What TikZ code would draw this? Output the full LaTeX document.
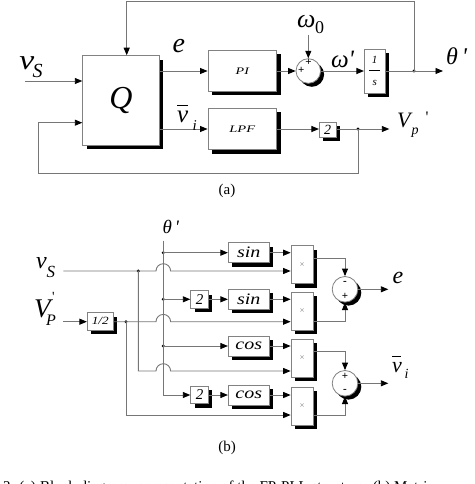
\documentclass[tikz,border=0pt]{standalone}
\usepackage{fontspec}
\setmainfont{Liberation Serif}
\usetikzlibrary{arrows.meta,shadows}
\definecolor{lncol}{RGB}{118,118,118}
\definecolor{bxcol}{RGB}{130,130,130}
\newcommand{\fs}[1]{\fontsize{#1}{#1}\selectfont}
\newcommand{\ovv}[1]{\rlap{\raisebox{0.66em}{\rule{0.42em}{0.045em}}}#1}
\begin{document}
\begin{tikzpicture}[x=1pt,y=-1pt,
  ln/.style={draw=lncol,line width=0.9pt},
  arr/.style={-{Triangle[length=7.5pt,width=6pt,black]}},
  blk/.style={draw=bxcol,fill=white,line width=0.8pt,inner sep=0pt,
    drop shadow={shadow xshift=4pt,shadow yshift=-4pt,fill=black,opacity=1}},
  sumc/.style={circle,draw=bxcol,fill=white,line width=0.8pt,inner sep=0pt,minimum size=24.6pt,
    drop shadow={shadow xshift=3.5pt,shadow yshift=-3.5pt,fill=black,opacity=1}},
  dot/.style={circle,fill=black,inner sep=0pt,minimum size=3.4pt},
  lab/.style={inner sep=0pt,outer sep=0pt},
  sgn/.style={inner sep=0pt,font=\fs{11}\bfseries}
]
\useasboundingbox (0,0) rectangle (474,484);
\clip (0,0) rectangle (474,484);

% ================= (a) =================
\node[blk,minimum width=76.6pt,minimum height=89.3pt,font=\fs{32}\itshape] (Q) at (121,100.3) {Q};
\node[blk,minimum width=68.7pt,minimum height=41pt,font=\fs{10}\itshape] (PI) at (242.3,71) {\scalebox{1.4}[1]{PI}};
\node[blk,minimum width=68.7pt,minimum height=41pt,font=\fs{10}\itshape] (LPF) at (242.3,129) {\scalebox{1.45}[1]{LPF}};
\node[sumc] (S1) at (308.3,71) {};
\node[sgn] (S1p1) at (308.6,62) {+};
\node[sgn] (S1p2) at (301.3,70.3) {+};
\node[blk,minimum width=20.7pt,minimum height=44pt,font=\fs{11}\itshape,align=center] (I) at (374.7,71.3) {1\\[-2pt]\rule[2.5pt]{11pt}{0.5pt}\\[2pt]s};
\node[blk,minimum width=16.7pt,minimum height=15pt,font=\fs{14}\itshape] (G) at (327.7,129.8) {2};

\coordinate (vsA) at (25,81);
\coordinate (thOut) at (443,71);
\coordinate (vpOut) at (389.3,129);
\coordinate (fbTop) at (126.7,1.5);
\coordinate (w0) at (308.3,35);
\coordinate (fbB1) at (38.7,173.3);
\coordinate (fbB2) at (38.7,122.7);
\node[dot] (d1) at (414,71) {};
\node[dot] (d2) at (358,129) {};

\draw[ln,arr] (vsA) -- (Q.west |- vsA);
\draw[ln,arr] (Q.east |- PI) -- (PI.west);
\draw[ln,arr] (Q.east |- LPF) -- (LPF.west);
\draw[ln,arr] (PI.east) -- (S1.west);
\draw[ln,arr] (S1.east) -- (I.west |- S1);
\draw[ln,arr] (I.east |- S1) -- (thOut);
\draw[ln,arr] (d1.center) |- (fbTop) -- (fbTop |- Q.north);
\draw[ln,arr] (w0) -- (S1.north);
\draw[ln,arr] (LPF.east) -- (G.west |- LPF);
\draw[ln,arr] (G.east |- LPF) -- (vpOut);
\draw[ln,arr] (d2.center) |- (fbB1) -- (fbB2) -- (Q.west |- fbB2);

% labels (a)
\node[lab,anchor=base west,font=\fs{28}\itshape] (lvA) at (19.5,70) {\scalebox{1.2}[1]{v}};
\node[lab,anchor=base west,font=\fs{20}\itshape] (lvAs) at (32.5,78) {S};
\node[lab,anchor=base west,font=\fs{28}\itshape] (leA) at (172.5,53) {e};
\node[lab,anchor=base west,font=\fs{25}\itshape] (lviA) at (177,123) {\ovv{v}};
\node[lab,anchor=base west,font=\fs{15}\itshape] (lviAs) at (192.5,130) {i};
\node[lab,anchor=base west,font=\fs{26}\itshape] (lw0) at (297,27.5) {ω};
\node[lab,anchor=base west,font=\fs{18}] (lw0s) at (315,34) {0};
\node[lab,anchor=base west,font=\fs{25}\itshape] (lwp) at (331,68) {ω\textquotesingle};
\node[lab,anchor=base west,font=\fs{24}\itshape] (lthA) at (446,65) {θ\,\textquotesingle};
\node[lab,anchor=base west,font=\fs{22}\itshape] (lVpA) at (397,128) {V};
\node[lab,anchor=base west,font=\fs{14}\itshape] (lVpAs) at (411.5,134) {p};
\node[lab,anchor=base west,font=\fs{16}] (lVpAq) at (425.5,123) {\textquotesingle};
\node[lab,font=\fs{15}] (capa) at (227,191) {(a)};

% ================= (b) =================
\node[blk,minimum width=41pt,minimum height=20pt,font=\fs{16}\itshape] (sin1) at (248.8,252.7) {\scalebox{1.25}[1]{sin}};
\node[blk,minimum width=17.6pt,minimum height=17.3pt,font=\fs{15}\itshape] (G2a) at (199.5,299.3) {2};
\node[blk,minimum width=41pt,minimum height=20pt,font=\fs{16}\itshape] (sin2) at (248.8,299.3) {\scalebox{1.25}[1]{sin}};
\node[blk,minimum width=41pt,minimum height=20pt,font=\fs{16}\itshape] (cos1) at (248.8,346) {\scalebox{1.25}[1]{cos}};
\node[blk,minimum width=17.6pt,minimum height=17.3pt,font=\fs{15}\itshape] (G2b) at (199.5,395) {2};
\node[blk,minimum width=41pt,minimum height=20pt,font=\fs{16}\itshape] (cos2) at (248.8,395) {\scalebox{1.25}[1]{cos}};
\node[blk,minimum width=26pt,minimum height=17.3pt,font=\fs{11}\itshape] (H) at (100.3,321.4) {\scalebox{1.2}[1]{1/2}};

\node[blk,minimum width=22.3pt,minimum height=38pt,font=\fs{9},text=bxcol] (M1) at (302.2,264.7) {×};
\node[blk,minimum width=22.3pt,minimum height=38pt,font=\fs{9},text=bxcol] (M2) at (302.2,311.3) {×};
\node[blk,minimum width=22.3pt,minimum height=38pt,font=\fs{9},text=bxcol] (M3) at (302.2,358) {×};
\node[blk,minimum width=22.3pt,minimum height=38pt,font=\fs{9},text=bxcol] (M4) at (302.2,406) {×};

\node[sumc,minimum size=25.6pt] (Sa) at (345,289.3) {};
\node[sgn] (Sam) at (345,282.5) {-};
\node[sgn] (Sap) at (345,296.7) {+};
\node[sumc,minimum size=25.6pt] (Sb) at (345,383.3) {};
\node[sgn] (Sbp) at (345,376.7) {+};
\node[sgn] (Sbm) at (345,390.5) {-};

\coordinate (thTop) at (163.3,240.7);
\node[dot] (th1) at (163.3,252.7) {};
\node[dot] (th2) at (163.3,299.3) {};
\node[dot] (th3) at (163.3,346) {};
\coordinate (vsB) at (63.3,271);
\node[dot] (vsDot) at (138.3,271) {};
\coordinate (vpB) at (63.3,321.7);
\node[dot] (hDot) at (126,321.7) {};
\coordinate (hop1) at (156,271);
\coordinate (hop2) at (156,321.7);
\coordinate (hop3) at (156,371);
\coordinate (c415) at (126,415);
\coordinate (eOut) at (388.3,289.3);
\coordinate (viOut) at (388.3,383.3);

\draw[ln,arr] (thTop) |- (G2b.west);
\draw[ln,arr] (th1.center) -- (sin1.west);
\draw[ln,arr] (th2.center) -- (G2a.west);
\draw[ln,arr] (G2a.east) -- (sin2.west);
\draw[ln,arr] (th3.center) -- (cos1.west);
\draw[ln,arr] (G2b.east) -- (cos2.west);

\draw[ln,arr] (vsB) -- (hop1) arc[start angle=180,end angle=0,radius=7.3pt] -- (M1.west |- hop1);
\draw[ln,arr] (vsDot.center) |- (hop3) arc[start angle=180,end angle=0,radius=7.3pt] -- (M3.west |- hop3);
\draw[ln,arr] (vpB) -- (H.west |- vpB);
\draw[ln,arr] (H.east |- vpB) -- (hop2) arc[start angle=180,end angle=0,radius=7.3pt] -- (M2.west |- hop2);
\draw[ln,arr] (hDot.center) -- (c415) -- (M4.west |- c415);

\draw[ln,arr] (sin1.east) -- (M1.west |- sin1);
\draw[ln,arr] (sin2.east) -- (M2.west |- sin2);
\draw[ln,arr] (cos1.east) -- (M3.west |- cos1);
\draw[ln,arr] (cos2.east) -- (M4.west |- cos2);

\draw[ln,arr] ([yshift=6.3pt]M1.east) -| (Sa.north);
\draw[ln,arr] ([yshift=-9.7pt]M2.east) -| (Sa.south);
\draw[ln,arr] ([yshift=6.3pt]M3.east) -| (Sb.north);
\draw[ln,arr] ([yshift=-9pt]M4.east) -| (Sb.south);
\draw[ln,arr] (Sa.east) -- (eOut);
\draw[ln,arr] (Sb.east) -- (viOut);

% labels (b)
\node[lab,anchor=base west,font=\fs{19}\itshape] (lthB) at (162.5,233) {θ\,\textquotesingle};
\node[lab,anchor=base west,font=\fs{24}\itshape] (lvB) at (36,268) {v};
\node[lab,anchor=base west,font=\fs{17}\itshape] (lvBs) at (46.5,277) {S};
\node[lab,anchor=base west,font=\fs{27}\itshape] (lVB) at (34,317) {V};
\node[lab,anchor=base west,font=\fs{16}\itshape] (lVBs) at (46,325) {P};
\node[lab,anchor=base west,font=\fs{14}] (lVBq) at (52,301) {\textquotesingle};
\node[lab,anchor=base west,font=\fs{24}\itshape] (leB) at (392.5,283) {e};
\node[lab,anchor=base west,font=\fs{22}\itshape] (lviB) at (392,372) {\ovv{v}};
\node[lab,anchor=base west,font=\fs{14}\itshape] (lviBs) at (404.5,378) {i};
\node[lab,font=\fs{15}] (capb) at (227,448) {(b)};

% caption
\node[lab,anchor=base west,font=\fs{15}] (cap) at (40,491) {Block diagram representation of the FP-PLL structure. (b) Matrix};
\node[lab,anchor=base east,font=\fs{15}] (cap0) at (cap.base west) {Fig. 2. (a)\kern4pt};
\end{tikzpicture}
\end{document}
